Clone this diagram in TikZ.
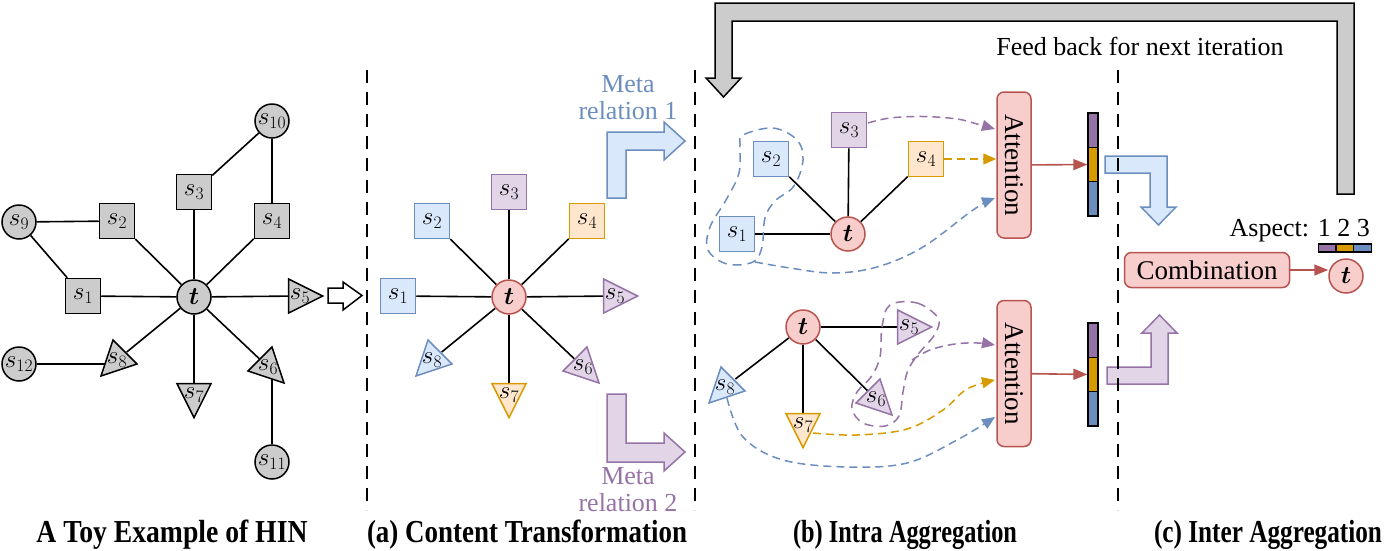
\RequirePackage{fix-cm}
\documentclass[tikz,border=0pt]{standalone}
\usepackage{fontspec}
\setmainfont{Liberation Serif}
\usepackage{bm}
\usetikzlibrary{arrows.meta,calc}
\definecolor{bluefill}{HTML}{DAE8FC}\definecolor{bluedraw}{HTML}{6C8EBF}
\definecolor{purfill}{HTML}{E1D5E7}\definecolor{purdraw}{HTML}{9673A6}
\definecolor{orfill}{HTML}{FFE6CC}\definecolor{ordraw}{HTML}{D79B00}
\definecolor{redfill}{HTML}{F8CECC}\definecolor{reddraw}{HTML}{B85450}
\definecolor{grayfill}{HTML}{CCCCCC}
\pgfdeclarelayer{bg}
\pgfsetlayers{bg,main}
\tikzset{
  mfont/.style={font=\fontsize{25}{28}\selectfont},
  sq/.style={rectangle, draw, line width=1.5pt, minimum width=35pt, minimum height=35pt, inner sep=0pt, mfont},
  cir/.style={circle, draw, line width=1.5pt, minimum size=34pt, inner sep=0pt, mfont},
  lab/.style={inner sep=0.5pt, mfont},
  gy/.style={fill=grayfill, draw=black},
  bl/.style={fill=bluefill, draw=bluedraw},
  pu/.style={fill=purfill, draw=purdraw},
  og/.style={fill=orfill, draw=ordraw},
  rd/.style={fill=redfill, draw=reddraw},
  lnk/.style={line width=1.6pt, draw=black},
  divider/.style={line width=1.5pt, dash pattern=on 13pt off 9pt},
  dsh/.style={line width=1.5pt, dash pattern=on 8pt off 5pt, -{Triangle[length=13pt,width=11pt]}},
  lasso/.style={line width=1.5pt, dash pattern=on 9pt off 6pt},
  redarr/.style={draw=reddraw, line width=1.6pt, -{Triangle[length=14pt,width=11pt]}},
  rbox/.style={rectangle, rounded corners=7pt, draw=reddraw, fill=redfill, line width=1.5pt, inner sep=0pt},
  txt/.style={font=\fontsize{26}{27}\selectfont, inner sep=0pt},
  captxt/.style={font=\fontsize{32}{34}\selectfont\bfseries, inner sep=0pt, anchor=base},
  vseg/.style={rectangle, draw=black, line width=1.3pt, inner sep=0pt, minimum width=10pt, minimum height=34.3pt},
  hseg/.style={rectangle, draw=black, line width=1.3pt, inner sep=0pt, minimum width=17.7pt, minimum height=8pt},
  blockarrow/.style={line width=1.5pt, line join=miter},
}
\newcommand\trinode[5]{%
  \filldraw[#1, line width=1.5pt, line join=miter, shift={(#3)}, rotate=#4] (22.67,0) -- (-11.33,17) -- (-11.33,-17) -- cycle;
  \node[lab] (#2) at (#3) {$#5$};}
\begin{document}
\begin{tikzpicture}[x=1pt,y=-1pt]
\useasboundingbox (0,0) rectangle (1390,550);

% ---------- Toy example ----------
\node[cir, gy] (tA) at (194,297) {$\bm{t}$};
\node[sq, gy] (sA1) at (83,296) {$s_1$};
\node[sq, gy] (sA2) at (117,221) {$s_2$};
\node[sq, gy] (sA3) at (194,192) {$s_3$};
\node[sq, gy] (sA4) at (272,221) {$s_4$};
\trinode{gy}{sA5}{300,296}{0}{s_5}
\trinode{gy}{sA6}{268,367}{-45}{s_6}
\trinode{gy}{sA7}{194,395}{-90}{s_7}
\trinode{gy}{sA8}{117,360}{225}{s_8}
\node[cir, gy] (sA9) at (19,222) {$s_9$};
\node[cir, gy] (sA10) at (272,121) {$s_{10}$};
\node[cir, gy] (sA11) at (272,462) {$s_{11}$};
\node[cir, gy] (sA12) at (19,364) {$s_{12}$};
\filldraw[fill=white, draw=black, blockarrow] (328,288) -- (343,288) -- (343,282) -- (362,295.5) -- (343,310) -- (343,303) -- (328,303) -- cycle;

% ---------- (a) Content transformation ----------
\node[cir, rd] (tB) at (509,297) {$\bm{t}$};
\node[sq, bl] (sB1) at (398,296) {$s_1$};
\node[sq, bl] (sB2) at (432,221) {$s_2$};
\node[sq, pu] (sB3) at (509,192) {$s_3$};
\node[sq, og] (sB4) at (587,221) {$s_4$};
\trinode{pu}{sB5}{615,296}{0}{s_5}
\trinode{pu}{sB6}{583,367}{-45}{s_6}
\trinode{og}{sB7}{509,395}{-90}{s_7}
\trinode{bl}{sB8}{432,360}{225}{s_8}
\filldraw[bl, blockarrow] (607,198) -- (607,132) -- (664,132) -- (664,122) -- (685,141) -- (664,160) -- (664,150) -- (626,150) -- (626,198) -- cycle;
\filldraw[pu, blockarrow] (607,394) -- (607,462) -- (664,462) -- (664,471) -- (685,452) -- (664,433) -- (664,443) -- (626,443) -- (626,394) -- cycle;
\node[txt, text=bluedraw, align=center] (mr1) at (628,98) {Meta\\relation 1};
\node[txt, text=purdraw, align=center] (mr2) at (628,490) {Meta\\relation 2};

% ---------- (b) Intra aggregation ----------
\node[cir, rd] (tC) at (848,234) {$\bm{t}$};
\node[sq, bl] (sC1) at (737,234) {$s_1$};
\node[sq, bl] (sC2) at (771,159) {$s_2$};
\node[sq, pu] (sC3) at (849,130) {$s_3$};
\node[sq, og] (sC4) at (926,159) {$s_4$};
\node[cir, rd] (tD) at (803,327) {$\bm{t}$};
\trinode{pu}{sD5}{909,327}{0}{s_5}
\trinode{pu}{sD6}{876,399}{-45}{s_6}
\trinode{og}{sD7}{803,425}{-90}{s_7}
\trinode{bl}{sD8}{725,387}{225}{s_8}

\node[rbox, minimum width=34pt, minimum height=146pt] (AttC) at (1014,165) {};
\node[txt, font=\fontsize{27}{28}\selectfont, rotate=-90] at (AttC) {Attention};
\node[rbox, minimum width=34pt, minimum height=146pt] (AttD) at (1014,373.5) {};
\node[txt, font=\fontsize{27}{28}\selectfont, rotate=-90] at (AttD) {Attention};

\node[vseg, fill=purdraw] (v1a) at (1093,130.2) {};
\node[vseg, fill=ordraw] (v1b) at (1093,164.5) {};
\node[vseg, fill=bluedraw] (v1c) at (1093,198.8) {};
\node[vseg, fill=purdraw] (v2a) at (1093,340.2) {};
\node[vseg, fill=ordraw] (v2b) at (1093,374.5) {};
\node[vseg, fill=bluedraw] (v2c) at (1093,408.8) {};

% lassos
\draw[lasso, draw=bluedraw] plot[smooth cycle, tension=0.6] coordinates {(743,135) (773,128) (797,140) (803,160) (794,186) (775,201) (765,218) (762,247) (753,262) (727,264) (708,250) (710,227) (726,200) (739,173) (740,145)};
\draw[lasso, draw=purdraw] plot[smooth cycle, tension=0.6] coordinates {(890,305) (917,303) (938,318) (935,334) (920,352) (908,370) (903,392) (899,416) (885,426) (863,423) (852,409) (857,392) (871,377) (880,357) (882,327)};

% dashed arrows into attention
\draw[dsh, draw=purdraw] plot[smooth, tension=0.6] coordinates {(868,123) (890,118) (923,116.5) (957,119) (977,124) (995,129)};
\draw[dsh, draw=ordraw] (sC4.east) -- (AttC.west |- sC4.east);
\draw[dsh, draw=bluedraw] plot[smooth, tension=0.6] coordinates {(755,262) (790,268) (833,273) (877,267) (923,247) (973,210) (995,198)};
\draw[dsh, draw=purdraw] plot[smooth, tension=0.6] coordinates {(912,360) (930,350) (955,344) (978,343) (995,345)};
\draw[dsh, draw=ordraw] plot[smooth, tension=0.6] coordinates {(813,433) (857,435) (907,429) (943,410) (967,389) (995,380)};
\draw[dsh, draw=bluedraw] plot[smooth, tension=0.6] coordinates {(727,398) (743,437) (783,460) (847,467) (907,463) (957,440) (995,417)};

\draw[redarr] (AttC) -- (v1b);
\draw[redarr] (AttD) -- (v2b);

% ---------- (c) Inter aggregation ----------
\filldraw[bl, blockarrow] (1105,156) -- (1167,156) -- (1167,207) -- (1176,207) -- (1158.5,225) -- (1141,207) -- (1150,207) -- (1150,173) -- (1105,173) -- cycle;
\filldraw[pu, blockarrow] (1107,384) -- (1168,384) -- (1168,333) -- (1177,333) -- (1159.5,315) -- (1142,333) -- (1151,333) -- (1151,367) -- (1107,367) -- cycle;
\node[rbox, minimum width=165pt, minimum height=35pt, font=\fontsize{27}{28}\selectfont] (comb) at (1207,270) {Combination};
\node[cir, rd] (tE) at (1346,276) {$\bm{t}$};
\draw[redarr] (comb.east) -- (comb.east -| tE.west);
\node[hseg, fill=purdraw] (asp1) at (1327,248) {};
\node[hseg, fill=ordraw] (asp2) at (1344.7,248) {};
\node[hseg, fill=bluedraw] (asp3) at (1362.4,248) {};
\node[txt, anchor=base east] (asptxt) at (1370,236) {Aspect: 1 2 3};

% feedback arrow
\filldraw[fill=grayfill, draw=black, blockarrow] (1337,194) -- (1354,194) -- (1354,3) -- (715,3) -- (715,78) -- (706,78) -- (723.5,97) -- (741,78) -- (732,78) -- (732,21) -- (1337,21) -- cycle;
\node[txt, anchor=base] (fb) at (1140,55) {Feed back for next iteration};

% dividers
\draw[divider] (367,70) -- (367,510);
\draw[divider] (695,70) -- (695,510);
\draw[divider] (1118,70) -- (1118,510);

% captions
\node[captxt] (capA) at (172,542) {\resizebox{271pt}{\height}{A Toy Example of HIN}};
\node[captxt] (capB) at (527,542) {\resizebox{320pt}{\height}{(a) Content Transformation}};
\node[captxt] (capC) at (905,542) {\resizebox{224pt}{\height}{(b) Intra Aggregation}};
\node[captxt] (capD) at (1268,542) {\resizebox{228pt}{\height}{(c) Inter Aggregation}};

% ---------- edges ----------
\begin{pgfonlayer}{bg}
\foreach \n in {sA1,sA2,sA3,sA4,sA5,sA6,sA7,sA8} \draw[lnk] (tA) -- (\n);
\draw[lnk] (sA9) -- (sA2);
\draw[lnk] (sA9) -- (sA1);
\draw[lnk] (sA3) -- (sA10);
\draw[lnk] (sA4) -- (sA10);
\draw[lnk] (sA12) -- (sA12 -| sA8);
\draw[lnk] (sA11) -- (sA11 |- sA6);
\foreach \n in {sB1,sB2,sB3,sB4,sB5,sB6,sB7,sB8} \draw[lnk] (tB) -- (\n);
\foreach \n in {sC1,sC2,sC3,sC4} \draw[lnk] (tC) -- (\n);
\foreach \n in {sD5,sD6,sD7,sD8} \draw[lnk] (tD) -- (\n);
\end{pgfonlayer}
\end{tikzpicture}
\end{document}
